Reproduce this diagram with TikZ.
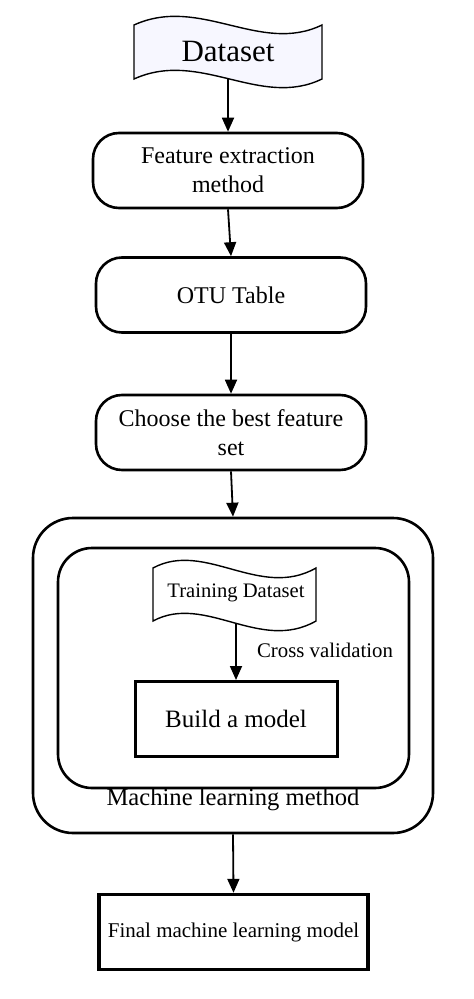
\documentclass[tikz,border=0pt]{standalone}
\usepackage{fontspec}
\setmainfont{Liberation Serif}
\usetikzlibrary{arrows.meta}

\begin{document}
\begin{tikzpicture}[x=0.5pt, y=-0.5pt, line width=1.3pt,
  rbox/.style={draw, rounded corners=13pt, minimum width=135pt, minimum height=37.5pt,
    align=center, font=\fontsize{12}{14.5}\selectfont},
  sbox/.style={draw, line width=1.5pt, minimum height=37.5pt},
  flow/.style={line width=0.9pt, -{Triangle[length=7pt,width=6pt]}},
  banner/.style={draw, line width=0.7pt, fill=blue!3}]
\useasboundingbox (0,0) rectangle (474,999);
%
\draw[banner] (134,25) .. controls (200,-5) and (260,55) .. (322,25)
  -- (322,79) .. controls (260,109) and (200,49) .. (134,79) -- cycle;
\node[font=\fontsize{15.5}{18}\selectfont] (data) at (228,52) {Dataset};
\coordinate (datab) at (228,79);
%
\node[rbox] (feat) at (228,170.5) {Feature extraction\\method};
\node[rbox] (otu) at (231,295) {OTU Table};
\node[rbox] (best) at (231,432.5) {Choose the best feature\\set};
%
\node[draw, rounded corners=20pt, minimum width=200pt, minimum height=157.5pt] (ml) at (233,675.5) {};
\node[draw, rounded corners=17pt, minimum width=175.5pt, minimum height=120pt] (inner) at (233.5,668) {};
%
\draw[banner, fill=white] (153,568) .. controls (205,540) and (260,600) .. (316,568)
  -- (316,621) .. controls (260,653) and (205,593) .. (153,621) -- cycle;
\node[font=\fontsize{10.3}{12}\selectfont] (train) at (236,593) {Training Dataset};
\coordinate (trainb) at (236,623);
%
\node[font=\fontsize{10.4}{12}\selectfont] (cv) at (325,650) {Cross validation};
\node[sbox, minimum width=101pt, font=\fontsize{12.5}{15}\selectfont] (build) at (236,719) {Build a model};
\node[font=\fontsize{12.3}{14}\selectfont] (mlm) at (233,800) {Machine learning method};
%
\node[sbox, line width=1.7pt, minimum width=134.5pt, font=\fontsize{10.5}{12}\selectfont] (final) at (233.5,932) {Final machine learning model};
%
\draw[flow] (datab) -- (feat.north);
\draw[flow] (feat.south) -- (otu.north);
\draw[flow] (otu.south) -- (best.north);
\draw[flow] (best.south) -- (ml.north);
\draw[flow] (trainb) -- (build.north);
\draw[flow] (ml.south) -- (final.north);
%
\end{tikzpicture}
\end{document}
